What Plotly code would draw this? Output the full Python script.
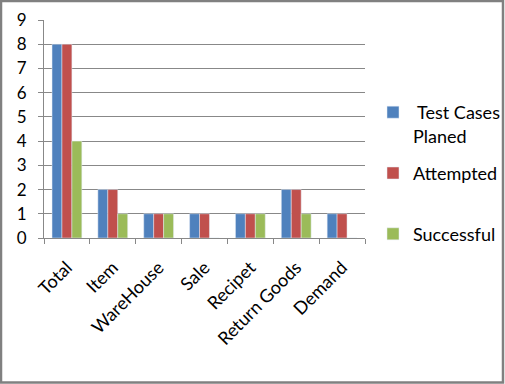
import plotly.graph_objects as go

categories = ["Total", "Item", "WareHouse", "Sale", "Recipet", "Return Goods", "Demand"]
planed = [8, 2, 1, 1, 1, 2, 1]
attempted = [8, 2, 1, 1, 1, 2, 1]
successful = [4, 1, 1, 0, 1, 1, 0]
series_names = [" Test Cases<br>Planed", "Attempted<br> ", "Successful<br> "]
y_ticks = list(range(0, 10))

FONT = "Lato"
W, H = 505, 384
L, R, T, B = 44, 140, 20, 146
pw, ph = W - L - R, H - T - B

fig = go.Figure()
fig.add_trace(go.Bar(x=categories, y=planed, name=series_names[0], marker_color="#4F81BD", legendgroup="a"))
fig.add_trace(go.Bar(x=categories, y=attempted, name=series_names[1], marker_color="#C0504D", legendgroup="b"))
fig.add_trace(go.Bar(x=categories, y=successful, name=series_names[2], marker_color="#9BBB59", legendgroup="c"))

def px_x(p):
    return (p - L) / pw

def px_y(p):
    return (H - B - p) / ph

fig.update_layout(
    width=W, height=H,
    margin=dict(l=L, r=R, t=T, b=B, pad=0, autoexpand=False),
    paper_bgcolor="white", plot_bgcolor="white",
    barmode="group", bargap=0.35, bargroupgap=0,
    font=dict(family=FONT, size=16, color="black"),
    showlegend=True,
    legend=dict(x=px_x(373), y=px_y(94), xanchor="left", yanchor="top",
                font=dict(family=FONT, size=18, color="black"),
                traceorder="grouped", tracegroupgap=11, itemwidth=30, valign="top",
                bgcolor="rgba(0,0,0,0)"),
    xaxis=dict(showline=True, linecolor="#888888", linewidth=1,
               ticks="outside", tickson="boundaries", ticklen=5, tickcolor="#888888",
               tickangle=-45, tickfont=dict(family=FONT, size=18, color="black"),
               ticklabelstandoff=11,
               showgrid=False, fixedrange=True),
    yaxis=dict(range=[0, 9], tickvals=y_ticks, showline=True, linecolor="#888888", linewidth=1,
               ticks="outside", ticklen=5, tickcolor="#888888",
               showgrid=True, gridcolor="#888888", gridwidth=1,
               tickfont=dict(family=FONT, size=17, color="black"), zeroline=False,
               ticklabelstandoff=8,
               fixedrange=True),
    shapes=[dict(type="rect", xref="paper", yref="paper",
                 x0=px_x(1), x1=px_x(503), y0=px_y(382.5), y1=px_y(1),
                 line=dict(color="#808080", width=2.5), fillcolor="rgba(0,0,0,0)", layer="above")],
)

fig.write_html("out.html")
